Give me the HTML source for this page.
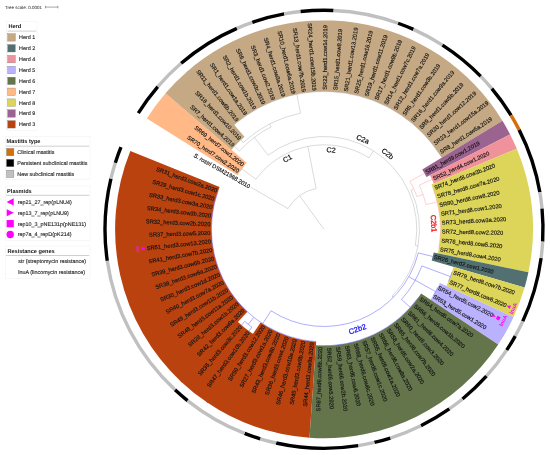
<!DOCTYPE html>
<html lang="en"><head><meta charset="utf-8"><title>Phylogenetic tree</title>
<style>html,body{margin:0;padding:0;background:#fff}svg{display:block}text{font-family:"Liberation Sans",sans-serif;text-rendering:geometricPrecision}.lb{font-size:5.72px;fill:#141414;stroke:#141414;stroke-width:0.15}.lg{font-size:5.4px;fill:#222;stroke:#222;stroke-width:0.12}.lt{font-size:5.6px;font-weight:bold;fill:#111}.tr{fill:none;stroke:#b4b4b4;stroke-width:0.5}.tb{fill:none;stroke:#6a6aff;stroke-width:0.55}.trd{fill:none;stroke:#ffaaaa;stroke-width:0.55}</style></head><body>
<svg width="550" height="455" viewBox="0 0 550 455">
<rect width="550" height="455" fill="#fff"/>
<g id="ranges">
<path d="M237.51 175.23L146.86 118.57A208.9 208.9 0 0 1 165.51 93.21L246.62 162.85A102 102 0 0 0 237.51 175.23Z" fill="#FFB886"/>
<path d="M231.44 149.82L165.51 93.21A208.9 208.9 0 0 1 187.76 70.94L244.44 136.82A122 122 0 0 0 231.44 149.82Z" fill="#C5A984"/>
<path d="M233.22 125.63L186.38 72.13A208.9 208.9 0 0 1 502.45 120.7L441.72 157.66A137.8 137.8 0 0 0 233.22 125.63Z" fill="#C5A984"/>
<path d="M422.24 169.52L502.45 120.7A208.9 208.9 0 0 1 510.13 134.46L426.46 177.09A115 115 0 0 0 422.24 169.52Z" fill="#9B6490"/>
<path d="M430.03 175.27L510.13 134.46A208.9 208.9 0 0 1 516.75 148.75L433.8 183.41A119 119 0 0 0 430.03 175.27Z" fill="#F0929B"/>
<path d="M431.49 184.38L516.75 148.75A208.9 208.9 0 0 1 528.42 272.33L438 253.3A116.5 116.5 0 0 0 431.49 184.38Z" fill="#DDD559"/>
<path d="M433.7 252.39L528.42 272.33A208.9 208.9 0 0 1 524.6 287.61L431.64 260.59A112.1 112.1 0 0 0 433.7 252.39Z" fill="#527071"/>
<path d="M453.63 266.98L524.6 287.61A208.9 208.9 0 0 1 513.56 317.09L446.5 286.03A135 135 0 0 0 453.63 266.98Z" fill="#DDD559"/>
<path d="M439.97 283.01L513.56 317.09A208.9 208.9 0 0 1 498.21 344.58L430.58 299.82A127.8 127.8 0 0 0 439.97 283.01Z" fill="#BAB1FF"/>
<path d="M421.16 293.59L498.21 344.58A208.9 208.9 0 0 1 309.48 437.69L315.9 345.52A116.5 116.5 0 0 0 421.16 293.59Z" fill="#64754B"/>
<path d="M316.17 341.63L309.48 437.69A208.9 208.9 0 0 1 206.48 402.01L260.65 322.39A112.6 112.6 0 0 0 316.17 341.63Z" fill="#B9420F"/>
<path d="M253.75 334.5L207.99 403.03A208.9 208.9 0 0 1 180.53 381.14L237.12 321.25A126.5 126.5 0 0 0 253.75 334.5Z" fill="#B9420F"/>
<path d="M247.39 311.82L181.86 382.39A208.9 208.9 0 0 1 130.33 151.01L219.61 187.1A112.6 112.6 0 0 0 247.39 311.82Z" fill="#B9420F"/>
</g>
<g id="ring" fill="none" stroke-width="3.4">
<path d="M138.3 113.21A219 219 0 0 1 157.85 86.63" stroke="#000000"/>
<path d="M157.85 86.63A219 219 0 0 1 181.17 63.28" stroke="#C0C0C0"/>
<path d="M181.17 63.28A219 219 0 0 1 236.95 28.34" stroke="#000000"/>
<path d="M236.95 28.34A219 219 0 0 1 252.34 22.36" stroke="#C0C0C0"/>
<path d="M252.34 22.36A219 219 0 0 1 284.25 13.94" stroke="#000000"/>
<path d="M284.25 13.94A219 219 0 0 1 300.59 11.56" stroke="#C0C0C0"/>
<path d="M300.59 11.56A219 219 0 0 1 333.57 10.51" stroke="#000000"/>
<path d="M333.57 10.51A219 219 0 0 1 398.14 23.23" stroke="#C0C0C0"/>
<path d="M398.14 23.23A219 219 0 0 1 413.46 29.4" stroke="#000000"/>
<path d="M413.46 29.4A219 219 0 0 1 442.48 45.12" stroke="#C0C0C0"/>
<path d="M442.48 45.12A219 219 0 0 1 480.78 76.39" stroke="#000000"/>
<path d="M480.78 76.39A219 219 0 0 1 491.85 88.63" stroke="#C0C0C0"/>
<path d="M491.85 88.63A219 219 0 0 1 511.08 115.45" stroke="#000000"/>
<path d="M511.08 115.45A219 219 0 0 1 519.13 129.87" stroke="#D4700A"/>
<path d="M519.13 129.87A219 219 0 0 1 539.86 192.33" stroke="#000000"/>
<path d="M539.86 192.33A219 219 0 0 1 542.03 208.7" stroke="#C0C0C0"/>
<path d="M542.03 208.7A219 219 0 0 1 542.65 241.7" stroke="#000000"/>
<path d="M542.65 241.7A219 219 0 0 1 541.09 258.14" stroke="#C0C0C0"/>
<path d="M541.09 258.14A219 219 0 0 1 522.72 321.34" stroke="#000000"/>
<path d="M522.72 321.34A219 219 0 0 1 515.22 336.05" stroke="#C0C0C0"/>
<path d="M515.22 336.05A219 219 0 0 1 506.64 350.15" stroke="#000000"/>
<path d="M506.64 350.15A219 219 0 0 1 486.4 376.22" stroke="#C0C0C0"/>
<path d="M486.4 376.22A219 219 0 0 1 462.48 398.96" stroke="#000000"/>
<path d="M462.48 398.96A219 219 0 0 1 449.31 408.91" stroke="#C0C0C0"/>
<path d="M449.31 408.91A219 219 0 0 1 420.9 425.7" stroke="#000000"/>
<path d="M420.9 425.7A219 219 0 0 1 390.29 438.03" stroke="#C0C0C0"/>
<path d="M390.29 438.03A219 219 0 0 1 374.37 442.43" stroke="#000000"/>
<path d="M374.37 442.43A219 219 0 0 1 358.17 445.62" stroke="#C0C0C0"/>
<path d="M358.17 445.62A219 219 0 0 1 276.12 443" stroke="#000000"/>
<path d="M276.12 443A219 219 0 0 1 260.16 438.79" stroke="#C0C0C0"/>
<path d="M260.16 438.79A219 219 0 0 1 244.55 433.38" stroke="#000000"/>
<path d="M244.55 433.38A219 219 0 0 1 187.51 400.56" stroke="#C0C0C0"/>
<path d="M187.51 400.56A219 219 0 0 1 174.99 389.79" stroke="#000000"/>
<path d="M174.99 389.79A219 219 0 0 1 107.26 260.67" stroke="#C0C0C0"/>
<path d="M107.26 260.67A219 219 0 0 1 110.94 178.66" stroke="#000000"/>
<path d="M110.94 178.66A219 219 0 0 1 115.36 162.75" stroke="#C0C0C0"/>
<path d="M115.36 162.75A219 219 0 0 1 120.96 147.22" stroke="#000000"/>
</g>
<g id="tree">
<path class="tr" d="M324 229.3L299.61 195.73M288.01 208.64A41.5 41.5 0 0 1 316.08 188.56M288.01 208.64L250.8 187.29M316.08 188.56L307.88 146.35M255.93 179.24A84.5 84.5 0 0 1 369.03 157.8M255.93 179.24L241.83 168.87M239.61 172.01A102 102 0 0 1 244.17 165.81M369.03 157.8L373.45 150.77M268.02 155.28A92.8 92.8 0 0 1 415.39 245.41M268.02 155.28L254.45 137.34M239.42 150.94A115.3 115.3 0 0 1 271.12 126.84M239.42 150.94L234.5 146.39M271.12 126.84L269.65 124M243.39 142.45A118.5 118.5 0 0 1 300.58 113.14M243.39 142.45L241.01 139.88M300.58 113.14L296.76 94.22M238.13 121.52A137.8 137.8 0 0 1 438.93 153.28M415.39 245.41L418.05 245.88M411.04 190A95.5 95.5 0 0 1 392.23 296.12"/>
<path class="trd" d="M411.04 190L413.77 188.77M410.01 181.3A98.5 98.5 0 0 1 416.91 196.58M410.01 181.3L424.42 173.26M416.91 196.58L423.04 194.42M419.29 185.19A105 105 0 0 1 426.06 204.61M419.29 185.19L431.99 179.31M426.06 204.61L437.23 201.91M433.11 188.46A116.5 116.5 0 0 1 438.83 248.98"/>
<path class="tb" d="M392.23 296.12L393.45 297.31M418.29 252.89A97.2 97.2 0 0 1 271.06 310.82M418.29 252.89L432.75 256.51M408.85 276.72L415.22 280.28M421.86 265.95A104.5 104.5 0 0 1 401.49 299.41M421.86 265.95L450.43 276.64M452.12 271.84A135 135 0 0 1 448.55 281.38M415.25 280.24L435.59 291.59M437.86 287.34A127.8 127.8 0 0 1 433.16 295.76M401.49 299.41L410.39 307.46M271.06 310.82L262.67 323.73M418.66 297.2A116.5 116.5 0 0 1 315.9 345.52M316.17 341.63A112.6 112.6 0 0 1 218.09 191.06M253.82 317.35L248.27 324.31M251.91 327.1A121.5 121.5 0 0 1 244.75 321.39M251.91 327.1L248.94 331.13M244.75 321.39L241.48 325.18"/>
</g>
<g id="labels" class="lb">
<text transform="translate(249.84 186.74) rotate(29.85)" text-anchor="end" dy="0.35em"><tspan font-style="italic">S. rostri</tspan> DSM21968.2010</text>
<text transform="translate(238.7 171.39) rotate(34.17)" text-anchor="end" dy="0.35em">SR70_herd7.cow2.2020</text>
<text transform="translate(243.3 165.13) rotate(38.49)" text-anchor="end" dy="0.35em">SR69_herd7.cow1.2020</text>
<text transform="translate(233.7 145.64) rotate(42.81)" text-anchor="end" dy="0.35em">SR7_herd1.cow4.2019</text>
<text transform="translate(240.26 139.07) rotate(47.13)" text-anchor="end" dy="0.35em">SR18_herd1.cow10.2019</text>
<text transform="translate(237.45 120.66) rotate(51.46)" text-anchor="end" dy="0.35em">SR11_herd1.cow6b.2019</text>
<text transform="translate(245.88 114.45) rotate(55.78)" text-anchor="end" dy="0.35em">SR1_herd1.cow1a.2019</text>
<text transform="translate(254.75 108.89) rotate(60.1)" text-anchor="end" dy="0.35em">SR2_herd1.cow1b.2019</text>
<text transform="translate(264.02 104.02) rotate(64.42)" text-anchor="end" dy="0.35em">SR6_herd1.cow3c.2019</text>
<text transform="translate(273.63 99.85) rotate(68.74)" text-anchor="end" dy="0.35em">SR3_herd1.cow2.2019</text>
<text transform="translate(283.53 96.43) rotate(73.06)" text-anchor="end" dy="0.35em">SR4_herd1.cow3a.2019</text>
<text transform="translate(293.65 93.76) rotate(77.38)" text-anchor="end" dy="0.35em">SR10_herd1.cow6a.2019</text>
<text transform="translate(303.95 91.85) rotate(81.7)" text-anchor="end" dy="0.35em">SR13_herd1.cow7b.2019</text>
<text transform="translate(314.37 90.73) rotate(86.02)" text-anchor="end" dy="0.35em">SR24_herd1.cow15b.2019</text>
<text transform="translate(324.84 89.7) rotate(-89.66)" text-anchor="start" dy="0.35em">SR22_herd1.cow14.2019</text>
<text transform="translate(335.35 90.16) rotate(-85.33)" text-anchor="start" dy="0.35em">SR15_herd1.cow8.2019</text>
<text transform="translate(345.8 91.41) rotate(-81.01)" text-anchor="start" dy="0.35em">SR21_herd1.cow13.2019</text>
<text transform="translate(356.13 93.45) rotate(-76.69)" text-anchor="start" dy="0.35em">SR25_herd1.cow16.2019</text>
<text transform="translate(366.28 96.26) rotate(-72.37)" text-anchor="start" dy="0.35em">SR19_herd1.cow11.2019</text>
<text transform="translate(376.18 99.82) rotate(-68.05)" text-anchor="start" dy="0.35em">SR17_herd1.cow9b.2019</text>
<text transform="translate(385.79 104.12) rotate(-63.73)" text-anchor="start" dy="0.35em">SR14_herd1.cow7c.2019</text>
<text transform="translate(395.04 109.13) rotate(-59.41)" text-anchor="start" dy="0.35em">SR12_herd1.cow7a.2019</text>
<text transform="translate(403.9 114.82) rotate(-55.09)" text-anchor="start" dy="0.35em">SR5_herd1.cow3b.2019</text>
<text transform="translate(412.29 121.17) rotate(-50.77)" text-anchor="start" dy="0.35em">SR16_herd1.cow9a.2019</text>
<text transform="translate(420.19 128.13) rotate(-46.45)" text-anchor="start" dy="0.35em">SR9_herd1.cow5b.2019</text>
<text transform="translate(427.54 135.66) rotate(-42.12)" text-anchor="start" dy="0.35em">SR20_herd1.cow12.2019</text>
<text transform="translate(434.3 143.73) rotate(-37.8)" text-anchor="start" dy="0.35em">SR23_herd1.cow15a.2019</text>
<text transform="translate(440.43 152.28) rotate(-33.48)" text-anchor="start" dy="0.35em">SR8_herd1.cow5a.2019</text>
<text transform="translate(425.65 172.58) rotate(-29.16)" text-anchor="start" dy="0.35em">SR81_herd9.cow1.2019</text>
<text transform="translate(433.26 178.72) rotate(-24.84)" text-anchor="start" dy="0.35em">SR52_herd4.cow1.2020</text>
<text transform="translate(434.42 187.97) rotate(-20.52)" text-anchor="start" dy="0.35em">SR74_herd8.cow3b.2020</text>
<text transform="translate(437.22 196.41) rotate(-16.2)" text-anchor="start" dy="0.35em">SR78_herd8.cow7a.2020</text>
<text transform="translate(439.38 205.03) rotate(-11.88)" text-anchor="start" dy="0.35em">SR80_herd8.cow8.2020</text>
<text transform="translate(440.88 213.79) rotate(-7.56)" text-anchor="start" dy="0.35em">SR71_herd8.cow1.2020</text>
<text transform="translate(441.71 222.64) rotate(-3.24)" text-anchor="start" dy="0.35em">SR73_herd8.cow3a.2020</text>
<text transform="translate(441.88 231.53) rotate(1.09)" text-anchor="start" dy="0.35em">SR72_herd8.cow2.2020</text>
<text transform="translate(441.38 240.41) rotate(5.41)" text-anchor="start" dy="0.35em">SR76_herd8.cow5.2020</text>
<text transform="translate(440.21 249.22) rotate(9.73)" text-anchor="start" dy="0.35em">SR75_herd8.cow4.2020</text>
<text transform="translate(434.11 256.85) rotate(14.05)" text-anchor="start" dy="0.35em">SR26_herd2.cow1.2020</text>
<text transform="translate(453.45 272.28) rotate(18.37)" text-anchor="start" dy="0.35em">SR79_herd8.cow7b.2020</text>
<text transform="translate(449.84 281.92) rotate(22.69)" text-anchor="start" dy="0.35em">SR77_herd8.cow6.2020</text>
<text transform="translate(438.22 287.52) rotate(27.01)" text-anchor="start" dy="0.35em">SR54_herd5.cow2.2020</text>
<text transform="translate(433.5 295.96) rotate(31.33)" text-anchor="start" dy="0.35em">SR53_herd5.cow1.2020</text>
<text transform="translate(420.29 298.37) rotate(35.65)" text-anchor="start" dy="0.35em">SR64_herd6.cow7a.2020</text>
<text transform="translate(414.81 305.43) rotate(39.97)" text-anchor="start" dy="0.35em">SR56_herd6.cow1b.2020</text>
<text transform="translate(408.82 312.05) rotate(44.3)" text-anchor="start" dy="0.35em">SR61_herd6.cow4.2020</text>
<text transform="translate(402.34 318.21) rotate(48.62)" text-anchor="start" dy="0.35em">SR60_herd6.cow3.2020</text>
<text transform="translate(395.42 323.86) rotate(52.94)" text-anchor="start" dy="0.35em">SR65_herd6.cow7b.2020</text>
<text transform="translate(388.09 328.97) rotate(57.26)" text-anchor="start" dy="0.35em">SR58_herd6.cow2a.2020</text>
<text transform="translate(380.4 333.52) rotate(61.58)" text-anchor="start" dy="0.35em">SR66_herd6.cow8a.2020</text>
<text transform="translate(372.39 337.47) rotate(65.9)" text-anchor="start" dy="0.35em">SR55_herd6.cow1a.2020</text>
<text transform="translate(364.1 340.81) rotate(70.22)" text-anchor="start" dy="0.35em">SR57_herd6.cow1c.2020</text>
<text transform="translate(355.58 343.51) rotate(74.54)" text-anchor="start" dy="0.35em">SR68_herd6.cow8c.2020</text>
<text transform="translate(346.89 345.57) rotate(78.86)" text-anchor="start" dy="0.35em">SR63_herd6.cow6.2020</text>
<text transform="translate(338.06 346.96) rotate(83.18)" text-anchor="start" dy="0.35em">SR59_herd6.cow2b.2020</text>
<text transform="translate(329.16 347.69) rotate(87.5)" text-anchor="start" dy="0.35em">SR62_herd6.cow5.2020</text>
<text transform="translate(320.25 346.84) rotate(-88.17)" text-anchor="end" dy="0.35em">SR67_herd6.cow8b.2020</text>
<text transform="translate(311.83 342.35) rotate(-83.85)" text-anchor="end" dy="0.35em">SR44_herd3.cow9a.2020</text>
<text transform="translate(303.34 341.11) rotate(-79.53)" text-anchor="end" dy="0.35em">SR45_herd3.cow9b.2020</text>
<text transform="translate(294.98 339.23) rotate(-75.21)" text-anchor="end" dy="0.35em">SR46_herd3.cow10a.2020</text>
<text transform="translate(286.78 336.73) rotate(-70.89)" text-anchor="end" dy="0.35em">SR36_herd3.cow4.2020</text>
<text transform="translate(278.79 333.62) rotate(-66.57)" text-anchor="end" dy="0.35em">SR43_herd3.cow8b.2020</text>
<text transform="translate(271.06 329.92) rotate(-62.25)" text-anchor="end" dy="0.35em">SR27_herd3.cow1a.2020</text>
<text transform="translate(263.63 325.65) rotate(-57.93)" text-anchor="end" dy="0.35em">SR50_herd3.cow12.2020</text>
<text transform="translate(248.29 332.01) rotate(-53.61)" text-anchor="end" dy="0.35em">SR47_herd3.cow10b.2020</text>
<text transform="translate(240.77 326.02) rotate(-49.28)" text-anchor="end" dy="0.35em">SR35_herd3.cow3c.2020</text>
<text transform="translate(243.55 309.65) rotate(-44.96)" text-anchor="end" dy="0.35em">SR42_herd3.cow8a.2020</text>
<text transform="translate(237.73 303.36) rotate(-40.64)" text-anchor="end" dy="0.35em">SR28_herd3.cow1b.2020</text>
<text transform="translate(232.39 296.65) rotate(-36.32)" text-anchor="end" dy="0.35em">SR48_herd3.cow11a.2020</text>
<text transform="translate(227.58 289.55) rotate(-32)" text-anchor="end" dy="0.35em">SR49_herd3.cow11b.2020</text>
<text transform="translate(223.31 282.12) rotate(-27.68)" text-anchor="end" dy="0.35em">SR40_herd3.cow7a.2020</text>
<text transform="translate(219.62 274.38) rotate(-23.36)" text-anchor="end" dy="0.35em">SR30_herd3.cow1d.2020</text>
<text transform="translate(216.52 266.39) rotate(-19.04)" text-anchor="end" dy="0.35em">SR38_herd3.cow6a.2020</text>
<text transform="translate(214.03 258.18) rotate(-14.72)" text-anchor="end" dy="0.35em">SR39_herd3.cow6b.2020</text>
<text transform="translate(212.17 249.82) rotate(-10.4)" text-anchor="end" dy="0.35em">SR41_herd3.cow7b.2020</text>
<text transform="translate(210.94 241.33) rotate(-6.08)" text-anchor="end" dy="0.35em">SR51_herd3.cow13.2020</text>
<text transform="translate(210.35 232.78) rotate(-1.75)" text-anchor="end" dy="0.35em">SR37_herd3.cow5.2020</text>
<text transform="translate(210.41 224.21) rotate(2.57)" text-anchor="end" dy="0.35em">SR32_herd3.cow2b.2020</text>
<text transform="translate(211.12 215.66) rotate(6.89)" text-anchor="end" dy="0.35em">SR34_herd3.cow3b.2020</text>
<text transform="translate(212.47 207.2) rotate(11.21)" text-anchor="end" dy="0.35em">SR33_herd3.cow3a.2020</text>
<text transform="translate(214.45 198.86) rotate(15.53)" text-anchor="end" dy="0.35em">SR29_herd3.cow1c.2020</text>
<text transform="translate(217.06 190.69) rotate(19.85)" text-anchor="end" dy="0.35em">SR31_herd3.cow2a.2020</text>
</g>
<g id="clades">
<text transform="translate(287.35 158.3) rotate(-27)" text-anchor="middle" dy="0.35em" font-size="7.2" fill="#111" stroke="#111" stroke-width="0.2" font-weight="normal">C1</text>
<text transform="translate(331.09 149.82) rotate(5)" text-anchor="middle" dy="0.35em" font-size="7.2" fill="#111" stroke="#111" stroke-width="0.2" font-weight="normal">C2</text>
<text transform="translate(362.8 139.2) rotate(23)" text-anchor="middle" dy="0.35em" font-size="7.2" fill="#111" stroke="#111" stroke-width="0.2" font-weight="normal">C2a</text>
<text transform="translate(387.64 153.73) rotate(40)" text-anchor="middle" dy="0.35em" font-size="7.2" fill="#111" stroke="#111" stroke-width="0.2" font-weight="normal">C2b</text>
<text transform="translate(433.85 223.54) rotate(87)" text-anchor="middle" dy="0.35em" font-size="7.3" fill="#ff1010" stroke="#ff1010" stroke-width="0.35" font-weight="normal">C2b1</text>
<text transform="translate(357.38 329.06) rotate(-18.5)" text-anchor="middle" dy="0.35em" font-size="7.5" fill="#2828ff" stroke="#2828ff" stroke-width="0.35" font-weight="normal">C2b2</text>
</g>
<g id="markers">
<polygon transform="translate(508.52 306.45) rotate(22.69)" points="1.9,-1.9 1.9,1.9 -1.9,0" fill="#FF00FF"/>
<text transform="translate(513.32 308.45) rotate(-67.31)" text-anchor="middle" dy="0.35em" font-size="5.3" font-weight="bold" fill="#FF00FF">lnuA</text>
<polygon transform="translate(494.08 316) rotate(27.01)" points="-1.8,-1.8 -1.8,1.8 1.8,0" fill="#FF00FF"/>
<rect transform="translate(498.26 318.13) rotate(27.01)" x="-1.75" y="-1.75" width="3.5" height="3.5" fill="#FF00FF"/>
<text transform="translate(503.25 320.68) rotate(-62.99)" text-anchor="middle" dy="0.35em" font-size="5.3" font-weight="bold" fill="#FF00FF">lnuA</text>
<circle cx="143.02" cy="248.56" r="1.8" fill="#FF00FF"/>
<text transform="translate(138.05 249.09) rotate(83.92)" text-anchor="middle" dy="0.35em" font-size="5.3" font-weight="bold" fill="#F020D0">str</text>
</g>
<g id="legend">
<text x="5" y="8.7" font-size="4.5" fill="#222">Tree scale: 0.0001</text>
<path d="M45.5 7.1H57.9M45.5 5.8V8.4M57.9 5.8V8.4" stroke="#222" stroke-width="0.4" fill="none"/>
<rect x="6.5" y="21.5" width="30.5" height="109" fill="#fff" stroke="#f0f0f0" stroke-width="0.5"/>
<text class="lt" x="8.4" y="28">Herd</text>
<path d="M7.5 31.1H36.3" stroke="#a8a8a8" stroke-width="0.55"/>
<rect x="7.7" y="33.7" width="7.6" height="7.4" fill="#C5A984" stroke="#777" stroke-width="0.35"/>
<text class="lg" x="19" y="39.3">Herd 1</text>
<rect x="7.7" y="44.57" width="7.6" height="7.4" fill="#527071" stroke="#777" stroke-width="0.35"/>
<text class="lg" x="19" y="50.17">Herd 2</text>
<rect x="7.7" y="55.44" width="7.6" height="7.4" fill="#F0929B" stroke="#777" stroke-width="0.35"/>
<text class="lg" x="19" y="61.04">Herd 4</text>
<rect x="7.7" y="66.31" width="7.6" height="7.4" fill="#BAB1FF" stroke="#777" stroke-width="0.35"/>
<text class="lg" x="19" y="71.91">Herd 5</text>
<rect x="7.7" y="77.18" width="7.6" height="7.4" fill="#64754B" stroke="#777" stroke-width="0.35"/>
<text class="lg" x="19" y="82.78">Herd 6</text>
<rect x="7.7" y="88.05" width="7.6" height="7.4" fill="#FFB886" stroke="#777" stroke-width="0.35"/>
<text class="lg" x="19" y="93.65">Herd 7</text>
<rect x="7.7" y="98.92" width="7.6" height="7.4" fill="#DDD559" stroke="#777" stroke-width="0.35"/>
<text class="lg" x="19" y="104.52">Herd 8</text>
<rect x="7.7" y="109.79" width="7.6" height="7.4" fill="#9B6490" stroke="#777" stroke-width="0.35"/>
<text class="lg" x="19" y="115.39">Herd 9</text>
<rect x="7.7" y="120.66" width="7.6" height="7.4" fill="#B9420F" stroke="#777" stroke-width="0.35"/>
<text class="lg" x="19" y="126.26">Herd 3</text>
<rect x="5.5" y="136.5" width="84.5" height="43" fill="#fff" stroke="#f0f0f0" stroke-width="0.5"/>
<text class="lt" x="6.6" y="143.3">Mastitis type</text>
<path d="M6 146.2H89.2" stroke="#a8a8a8" stroke-width="0.55"/>
<rect x="6.5" y="148.4" width="7.4" height="7.4" fill="#D4700A" stroke="#777" stroke-width="0.35"/>
<text class="lg" x="17.3" y="154">Clinical mastitis</text>
<rect x="6.5" y="159.27" width="7.4" height="7.4" fill="#000000" stroke="#777" stroke-width="0.35"/>
<text class="lg" x="17.3" y="164.87">Persistent subclinical mastitis</text>
<rect x="6.5" y="170.14" width="7.4" height="7.4" fill="#C0C0C0" stroke="#777" stroke-width="0.35"/>
<text class="lg" x="17.3" y="175.74">New subclinical mastitis</text>
<rect x="5.5" y="186" width="84.5" height="54.5" fill="#fff" stroke="#f0f0f0" stroke-width="0.5"/>
<text class="lt" x="7.1" y="193">Plasmids</text>
<path d="M6 195.3H89.2" stroke="#a8a8a8" stroke-width="0.55"/>
<polygon points="13.7,198.3 13.7,205.5 6.6,201.9" fill="#FF00FF"/>
<text class="lg" x="17.8" y="203.8">rep21_27_rep(pLNU4)</text>
<polygon points="6.7,209.17 6.7,216.37 13.8,212.77" fill="#FF00FF"/>
<text class="lg" x="17.8" y="214.67">rep13_7_rep(pLNU9)</text>
<rect x="6.6" y="220.04" width="7.2" height="7.2" fill="#FF00FF"/>
<text class="lg" x="17.8" y="225.54">rep10_3_pNE131p(pNE131)</text>
<circle cx="10.2" cy="234.51" r="3.7" fill="#FF00FF"/>
<text class="lg" x="17.8" y="236.41">rep7a_4_repD(pK214)</text>
<rect x="5.5" y="246" width="84.5" height="32.5" fill="#fff" stroke="#f0f0f0" stroke-width="0.5"/>
<text class="lt" x="7.4" y="252.8">Resistance genes</text>
<path d="M6 255.5H89.2" stroke="#a8a8a8" stroke-width="0.55"/>
<text class="lg" x="18.3" y="263.4">str (streptomycin resistance)</text>
<text class="lg" x="18.3" y="274.27">lnuA (lincomycin resistance)</text>
</g>
</svg></body></html>
